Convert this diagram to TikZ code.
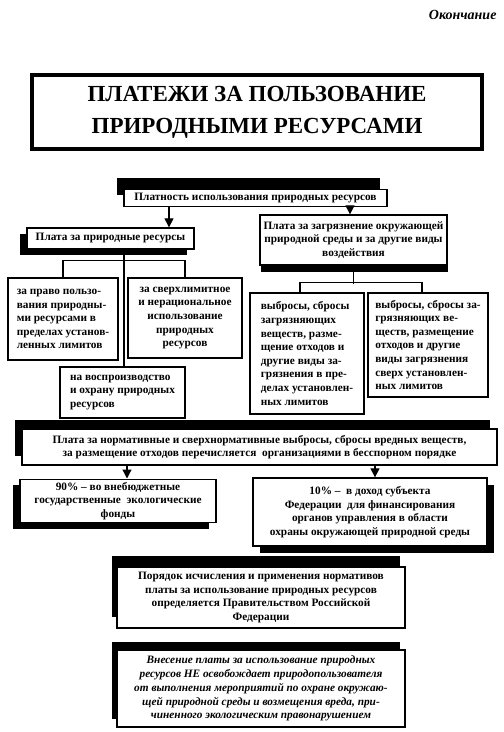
\documentclass[tikz,border=0pt]{standalone}
\usepackage{fontspec}
\setmainfont{Liberation Serif}
\usetikzlibrary{arrows.meta,shadows}

\tikzset{
  box/.style={draw, line width=1.3pt, fill=white, align=center, inner sep=3pt,
    font=\bfseries\fontsize{11.3}{13.6}\selectfont},
  lbox/.style={box, align=left},
  shad/.style 2 args={drop shadow={shadow xshift=#1, shadow yshift=#2, fill=black, opacity=1}},
  link/.style={draw, line width=1.2pt},
  arr/.style={link, -{Triangle[width=9pt,length=9pt]}},
}

\begin{document}
\begin{tikzpicture}[x=1pt,y=1pt]
        \fill[white] (0,0) rectangle (504,732);
        \useasboundingbox (0,0) rectangle (504,732);

        \node[anchor=east, font=\bfseries\itshape\fontsize{14}{16}\selectfont] (okon) at (500,717) {Окончание};
        \node[draw, line width=3pt, minimum width=451, minimum height=75,
              align=center, font=\bfseries\fontsize{23}{32}\selectfont] (title) at (257,620)
              {ПЛАТЕЖИ ЗА ПОЛЬЗОВАНИЕ\\ПРИРОДНЫМИ РЕСУРСАМИ};
        \draw[line width=0.8pt] ([shift={(3.5,-3.5)}]title.north west) rectangle ([shift={(-3.5,3.5)}]title.south east);

        \node[box, shad={-7pt}{11pt}, minimum width=263, minimum height=17] (plat) at (255.5,534)
              {Платность использования природных ресурсов};
        \node[box, shad={-7pt}{-6pt}, minimum width=167, minimum height=21] (prir) at (110.5,493.5)
              {Плата за природные ресурсы};
        \node[box, shad={1pt}{-7pt}, minimum width=187, minimum height=50] (zagr) at (353.5,492)
              {Плата за загрязнение окружающей\\природной среды и за другие виды\\воздействия};

        \node[lbox, minimum width=110, minimum height=82] (lA) at (63,413)
              {за право пользо-\\вания природны-\\ми ресурсами в\\пределах установ-\\ленных лимитов};
        \node[box, minimum width=114, minimum height=80] (lB) at (185,414)
              {за сверхлимитное\\и нерациональное\\использование\\природных\\ресурсов};
        \node[lbox, minimum width=125, minimum height=51] (lC) at (122.5,339.5)
              {на воспроизводство\\и охрану природных\\ресурсов};

        \node[lbox, minimum width=114, minimum height=121] (rD) at (307,378.5)
              {выбросы, сбросы\\загрязняющих\\веществ, разме-\\щение отходов и\\другие виды за-\\грязнения в пре-\\делах установлен-\\ных лимитов};
        \node[lbox, minimum width=120, minimum height=104] (rE) at (428,387)
              {выбросы, сбросы за-\\грязняющих ве-\\ществ, размещение\\отходов и другие\\виды загрязнения\\сверх установлен-\\ных лимитов};

        \node[box, shad={-7pt}{9pt}, minimum width=475, minimum height=36] (norm) at (259.5,285)
              {Плата за нормативные и сверхнормативные выбросы, сбросы вредных веществ,\\за размещение отходов перечисляется\ \ организациями в бесспорном порядке};
        \node[box, shad={-7pt}{-6pt}, minimum width=196, minimum height=40] (p90) at (118,231)
              {90\% – во внебюджетные\\государственные\ \ экологические\\фонды};
        \node[box, shad={7pt}{-7pt}, minimum width=234, minimum height=68] (p10) at (370,220)
              {10\% –\ \ в доход субъекта\\Федерации\ \ для финансирования\\органов управления в области\\охраны окружающей природной среды};

        \node[box, shad={-5pt}{11pt}, minimum width=288, minimum height=61] (por) at (261,134.5)
              {Порядок исчисления и применения нормативов\\платы за использование природных ресурсов\\определяется Правительством Российской\\Федерации};
        \node[box, shad={-5pt}{8pt}, minimum width=288, minimum height=77,
              font=\bfseries\itshape\fontsize{11.3}{13.8}\selectfont] (vnes) at (261,43.5)
              {Внесение платы за использование природных\\ресурсов НЕ освобождает природопользователя\\от выполнения мероприятий по охране окружаю-\\щей природной среды и возмещения вреда, при-\\чиненного экологическим правонарушением};

        \coordinate (a1) at (169,0);
        \coordinate (a2) at (350,0);
        \coordinate (a3) at (127,0);
        \coordinate (a4) at (375,0);
        \coordinate (lbar) at (124,0);

        \path[arr] (plat.south -| a1) -- (prir.north -| a1);
        \path[arr] (plat.south -| a2) -- (zagr.north -| a2);
        \path[link] (prir.south -| lbar) -- (lC.north -| lbar);
        \path[link] (lA.north) -- ++(0,17) -| (lB.north);
        \path[link] (zagr.south) -- ++(0,-18);
        \path[link] ([xshift=-7pt]rD.north) -- ++(0,10) -| ([xshift=-6pt]rE.north);
        \path[arr] (norm.south -| a3) -- (p90.north -| a3);
        \path[arr] (norm.south -| a4) -- (p10.north -| a4);
\end{tikzpicture}
\end{document}
